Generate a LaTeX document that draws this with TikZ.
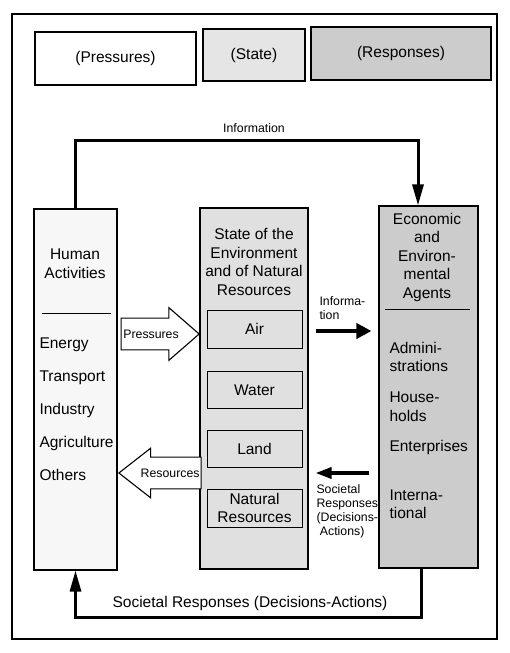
\documentclass[tikz,border=0pt]{standalone}
\usepackage{fontspec}
\setmainfont{Liberation Sans}
\usetikzlibrary{arrows.meta,shapes.arrows}

\begin{document}
\begin{tikzpicture}[x=1pt, y=-1pt,
        box/.style={draw, line width=1.1pt, inner sep=0pt},
        bigtxt/.style={font=\fontsize{15.5}{18.5}\selectfont},
        smalltxt/.style={font=\fontsize{12.3}{14}\selectfont},
        flow/.style={line width=3pt, -{Triangle[length=21pt,width=11pt]}},
        shortflow/.style={line width=4pt, -{Triangle[length=15pt,width=15pt]}},
        blockarrow/.style={single arrow, draw, line width=1.1pt, fill=white, smalltxt, inner xsep=1pt, inner ysep=11pt, single arrow head indent=0pt}]

        % Frame
        \useasboundingbox (0,0) rectangle (509,653);
        \draw[line width=1.1pt] (12,14) rectangle (497,639);

        % Draw legend boxes
        \node[box, fill=white, bigtxt, minimum width=161pt, minimum height=53pt] (legP) at (115.5,58.5) {(Pressures)};
        \node[box, fill=gray!20, bigtxt, minimum width=102pt, minimum height=52pt] (legS) at (254,55) {(State)};
        \node[box, fill=gray!40, bigtxt, minimum width=180pt, minimum height=53pt] (legR) at (401,53.5) {(Responses)};

        % Draw the three columns
        \node[box, fill=gray!6, minimum width=83pt, minimum height=361pt] (human) at (75.5,389.5) {};
        \node[box, fill=gray!24, minimum width=108pt, minimum height=361pt] (state) at (254,388.5) {};
        \node[box, fill=gray!40, minimum width=99pt, minimum height=362pt] (econ) at (428.5,387) {};

        % Human activities
        \node[bigtxt, align=center] (humtitle) at (75,263.5) {Human\\Activities};
        \draw[line width=1pt] (42,313) -- (111,313);
        \node[bigtxt, anchor=west] (energy) at (36,345) {Energy};
        \node[bigtxt, anchor=west] (transport) at (36,378) {Transport};
        \node[bigtxt, anchor=west] (industry) at (36,410) {Industry};
        \node[bigtxt, anchor=west] (agri) at (36,443) {Agriculture};
        \node[bigtxt, anchor=west] (others) at (36,475) {Others};

        % State of the environment
        \node[bigtxt, align=center] (statetitle) at (254,262) {State of the\\Environment\\and of Natural\\Resources};
        \node[box, line width=0.9pt, fill=gray!24, bigtxt, minimum width=95pt, minimum height=38pt] (air) at (254.5,329) {Air};
        \node[box, line width=0.9pt, fill=gray!24, bigtxt, minimum width=95pt, minimum height=37pt] (water) at (254.5,390) {Water};
        \node[box, line width=0.9pt, fill=gray!24, bigtxt, minimum width=95pt, minimum height=37pt] (land) at (254.5,448.5) {Land};
        \node[box, line width=0.9pt, fill=gray!24, bigtxt, align=center, minimum width=95pt, minimum height=38pt] (natres) at (254.5,508) {Natural\\Resources};

        % Economic and environmental agents
        \node[bigtxt, align=center] (econtitle) at (427,257) {Economic\\and\\Environ-\\mental\\Agents};
        \draw[line width=1pt] (385,309) -- (470,309);
        \node[bigtxt, align=left, anchor=west] (admin) at (386,357) {Admini-\\strations};
        \node[bigtxt, align=left, anchor=west] (house) at (386,406.5) {House-\\holds};
        \node[bigtxt, anchor=west] (enter) at (386,447) {Enterprises};
        \node[bigtxt, align=left, anchor=west] (intl) at (386,504) {Interna-\\tional};

        % Block arrows between human activities and state
        \node[blockarrow, single arrow head extend=10.5pt, single arrow tip angle=82, minimum height=78pt, anchor=tip] (pressarr) at (200,334) {Pressures};
        \node[blockarrow, shape border rotate=180, single arrow head extend=9pt, single arrow tip angle=76, minimum height=79pt, anchor=tip] (resarr) at (118,473) {Resources};

        % Short arrows between state and agents
        \coordinate (infoA) at (state.east |- 0,331);
        \coordinate (socA) at (state.east |- 0,473);
        \draw[shortflow] ([xshift=7pt]infoA) -- ([xshift=-7pt]infoA -| econ.west);
        \draw[line width=3.5pt, -{Triangle[length=16pt,width=11pt]}] ([xshift=-9pt]socA -| econ.west) -- ([xshift=7pt]socA);
        \node[smalltxt, align=left, anchor=west] (infolbl) at (316,308.5) {Informa-\\tion};
        \node[smalltxt, align=left, anchor=north west] (soclbl) at (313,481) {Societal\\Responses\\(Decisions-\\\ Actions)};

        % Draw the information loop on top
        \coordinate (infoR) at (418,140);
        \draw[flow] (human.north) |- (infoR) -- (infoR |- econ.north);
        \node[smalltxt] (infotop) at (254,128) {Information};

        % Draw the societal responses loop at the bottom
        \coordinate (respR) at (421,617);
        \draw[flow] (respR |- econ.south) -- (respR) -| (human.south);
        \node[bigtxt] (resptop) at (250,603) {Societal Responses (Decisions-Actions)};

\end{tikzpicture}
\end{document}
